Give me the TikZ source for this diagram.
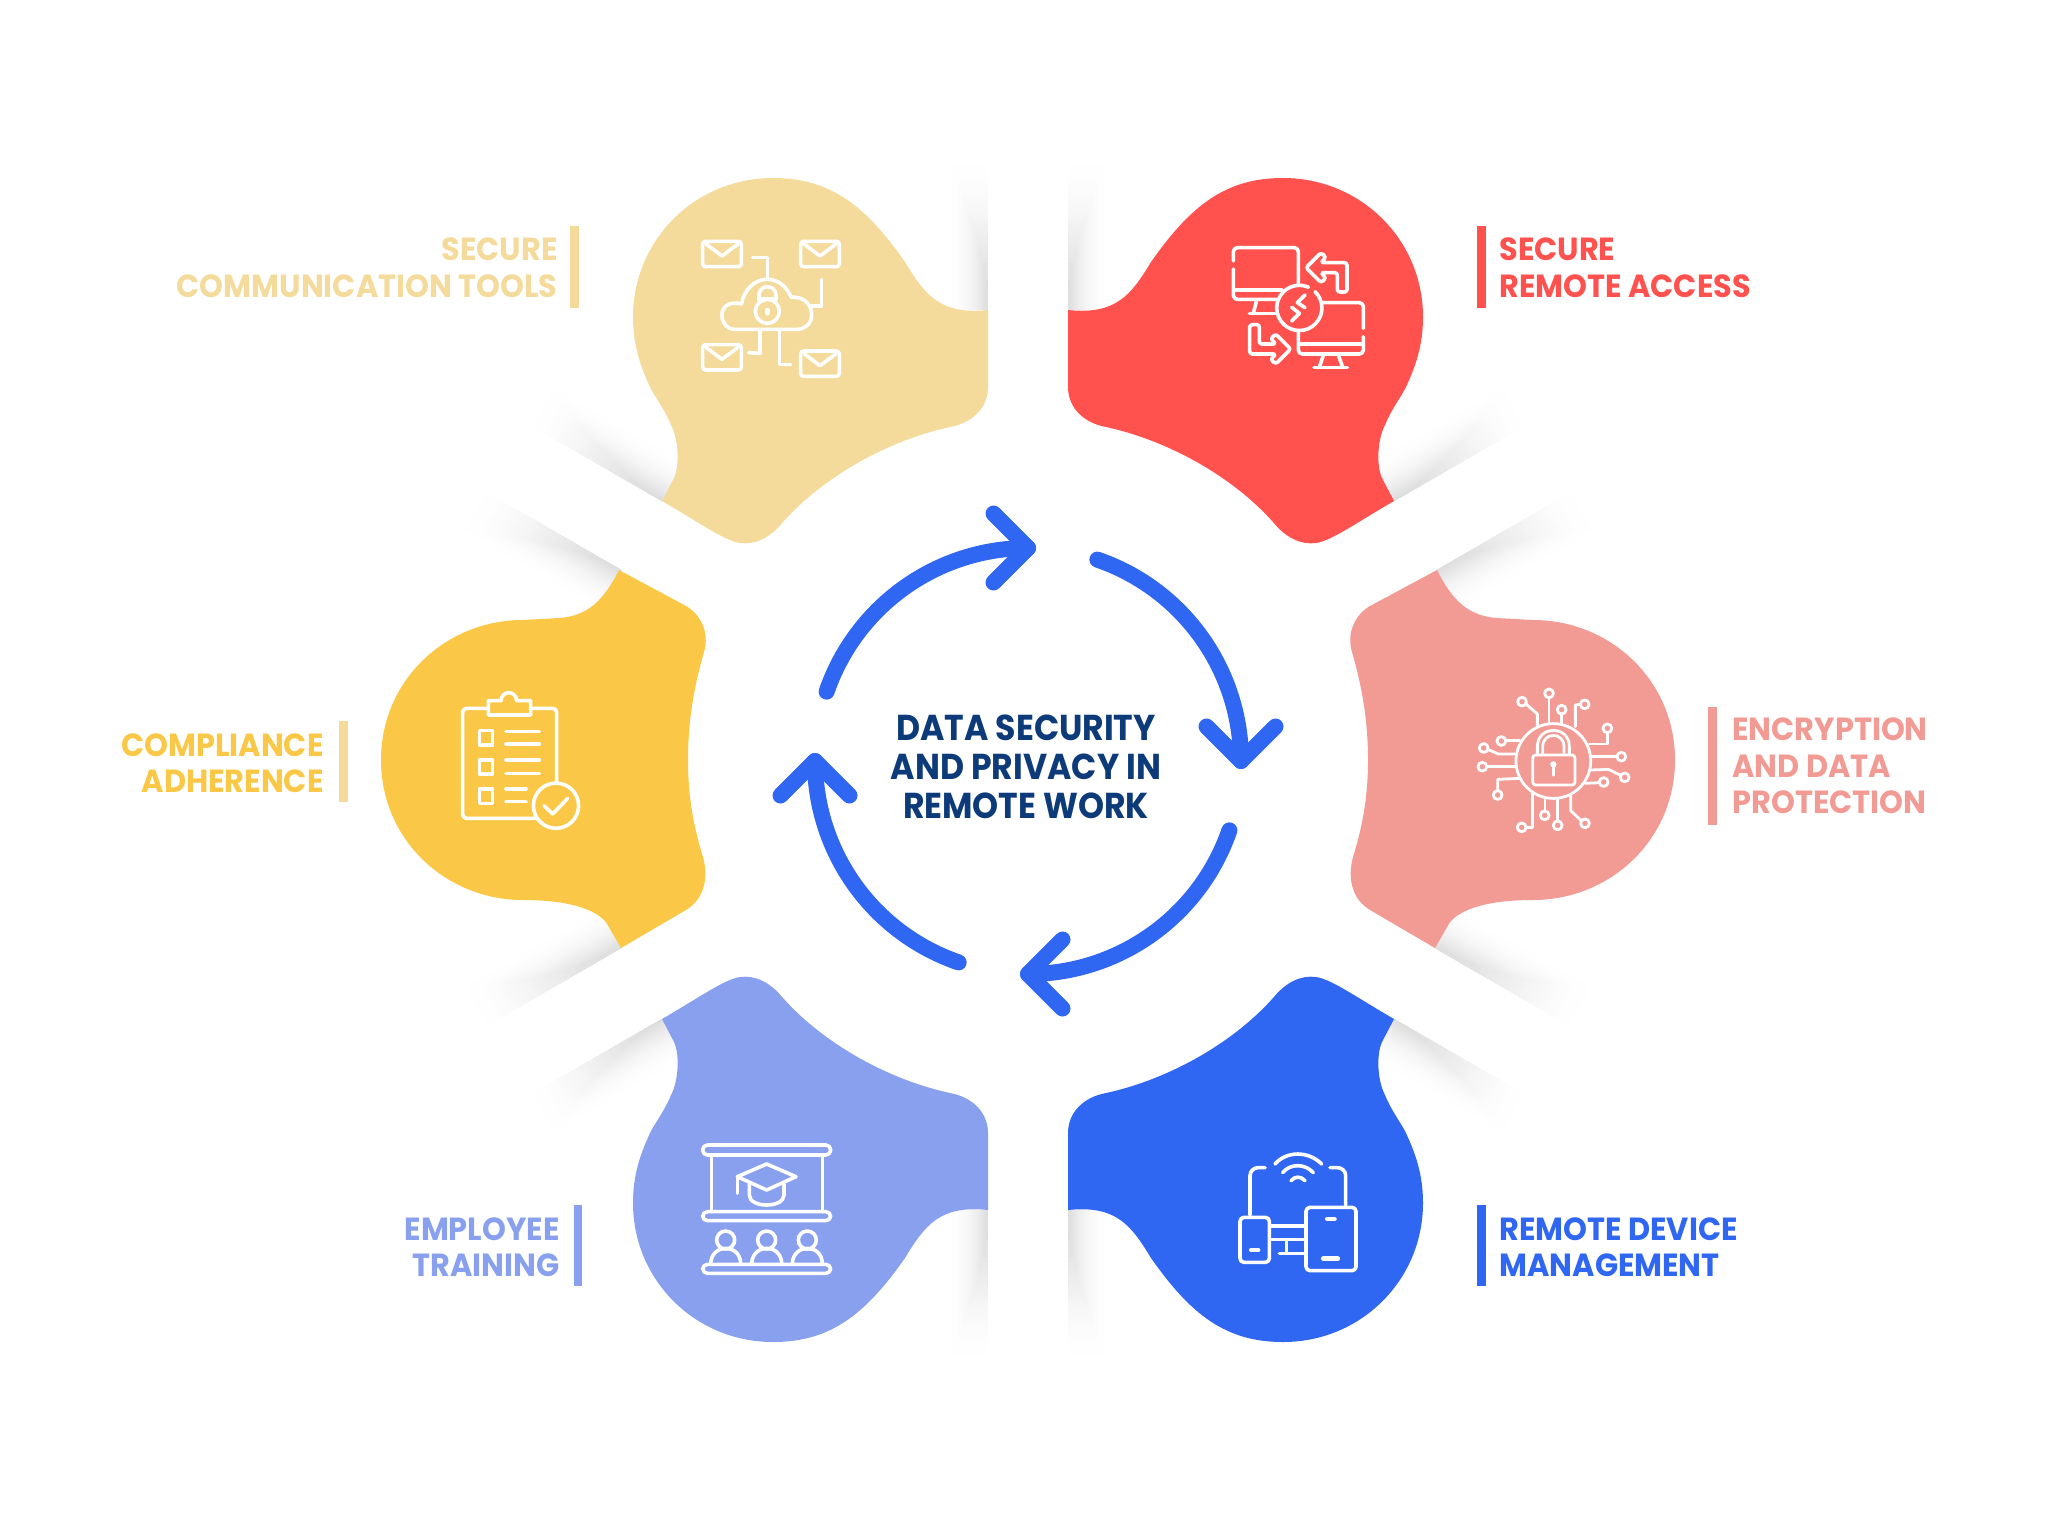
\documentclass[tikz,border=0pt]{standalone}
\usepackage{fontspec}
\newfontfamily\labfont[FakeStretch=0.95]{Poppins}
\newfontfamily\titfont[FakeStretch=0.92]{Poppins}
\definecolor{ctan}{HTML}{F4DB9B}
\definecolor{cred}{HTML}{FF524F}
\definecolor{cpink}{HTML}{F29A94}
\definecolor{cyel}{HTML}{FAC846}
\definecolor{cperi}{HTML}{88A0EE}
\definecolor{cblue}{HTML}{2F66F2}
\definecolor{cnavy}{HTML}{0D3B7A}
\newcommand{\softshadow}[6]{%
 \foreach \i in {28,...,1}{%
  \pgfmathsetmacro{\tt}{\i/28}\pgfmathsetmacro{\ll}{\tt^0.6}\pgfmathsetmacro{\pp}{14*(1-\tt)*(1-\tt)+0.1}%
  \fill[black!\pp!white] (#1,#2) -- ++({\ll*(#3)},{\ll*(#4)}) -- ++({\tt*(#5)},{\tt*(#6)}) -- ++({-\ll*(#3)},{-\ll*(#4)}) -- cycle;%
 }}
\newcommand{\tanblob}{(988,310) -- (988,387) .. controls (988,408) and (972,423) .. (950,427) .. controls (890,440) and (825,475) .. (783,522) .. controls (770,538) and (755,545) .. (740,543) .. controls (725,541) and (700,523) .. (662,501) -- (673,480) .. controls (680,468) and (679,440) .. (671,425) .. controls (665,410) and (655,397) .. (650,387) .. controls (640,365) and (633,345) .. (633,317) .. controls (633,240) and (695,178) .. (773,178) .. controls (830,178) and (865,205) .. (905,262) .. controls (925,295) and (940,315) .. (988,310) -- cycle}
\newcommand{\pinkblob}{(1437,570) .. controls (1452,600) and (1468,616) .. (1497,618) -- (1533,620) .. controls (1610,620) and (1675,680) .. (1675,760) .. controls (1675,840) and (1610,900) .. (1533,900) .. controls (1500,900) and (1465,905) .. (1450,922) -- (1435,948) -- (1370,910) .. controls (1350,898) and (1348,875) .. (1353,857) .. controls (1363,825) and (1368,795) .. (1368,760) .. controls (1368,715) and (1360,680) .. (1352,652) .. controls (1346,632) and (1356,614) .. (1370,606) -- cycle}
\tikzset{
 lab/.style={inner sep=0pt,font=\labfont\bfseries\fontsize{16}{18.3}\selectfont},
 tit/.style={inner sep=0pt,font=\titfont\bfseries\fontsize{18}{19.5}\selectfont},
 icon/.style={draw=white,line width=1.8pt,line cap=round,line join=round},
 icn/.style={shift={(#1)},x=0.16667pt,y=-0.16667pt},
 cyc/.style={draw=cblue,line width=8pt,line cap=round,line join=round},
}
\begin{document}
\begin{tikzpicture}[x=0.5pt,y=-0.5pt]
\useasboundingbox (0,0) rectangle (2048,1521);
% soft shadows
\softshadow{988}{310}{0}{-150}{-40}{0}
\softshadow{1068}{310}{0}{-150}{40}{0}
\softshadow{988}{1210}{0}{150}{-40}{0}
\softshadow{1068}{1210}{0}{150}{40}{0}
\softshadow{662}{501}{-135}{-78}{23}{-40}
\softshadow{1394}{501}{135}{-78}{-23}{-40}
\softshadow{662}{1019}{-135}{78}{23}{40}
\softshadow{1394}{1019}{135}{78}{-23}{40}
\softshadow{1437}{570}{140}{-81}{23}{40}
\softshadow{1435}{948}{140}{81}{23}{-40}
\softshadow{621}{570}{-140}{-81}{-23}{40}
\softshadow{621}{948}{-140}{81}{-23}{-40}
% blobs
\fill[ctan] \tanblob;
\begin{scope}[shift={(2056,0)},xscale=-1]\fill[cred] \tanblob;\end{scope}
\begin{scope}[shift={(0,1520)},yscale=-1]\fill[cperi] \tanblob;\end{scope}
\begin{scope}[shift={(2056,1520)},xscale=-1,yscale=-1]\fill[cblue] \tanblob;\end{scope}
\fill[cpink] \pinkblob;
\begin{scope}[shift={(2056,0)},xscale=-1]\fill[cyel] \pinkblob;\end{scope}
% label bars
\fill[ctan] (570,226) rectangle (579,308);
\fill[cred] (1477,226) rectangle (1486,308);
\fill[cpink] (1708,707) rectangle (1717,825);
\fill[ctan] (339,721) rectangle (348,802);
\fill[cperi] (574,1205) rectangle (582,1286);
\fill[cblue] (1477,1205) rectangle (1486,1286);
% labels
\node[lab,align=right,anchor=east,text=ctan] (l1) at (558,268) {SECURE\\COMMUNICATION TOOLS};
\node[lab,align=left,anchor=west,text=cred] (l2) at (1499,268) {SECURE\\REMOTE ACCESS};
\node[lab,align=left,anchor=west,text=cpink] (l3) at (1732,766) {ENCRYPTION\\AND DATA\\PROTECTION};
\node[lab,align=right,anchor=east,text=cyel] (l4) at (324,763) {COMPLIANCE\\ADHERENCE};
\node[lab,align=right,anchor=east,text=cperi] (l5) at (560,1247) {EMPLOYEE\\TRAINING};
\node[lab,align=left,anchor=west,text=cblue] (l6) at (1499,1247) {REMOTE DEVICE\\MANAGEMENT};
\node[tit,align=center,text=cnavy] (title) at (1026,767) {DATA SECURITY\\AND PRIVACY IN\\REMOTE WORK};
% cycle arrows
\coordinate (ctr) at (1028,761);
\foreach \s/\e in {161/90,71/0,-19/-90,-109/-180}{
 \draw[cyc] (ctr) ++(\s:106.5pt) arc[start angle=\s,end angle=\e,radius=106.5pt];
 \draw[cyc] (ctr) ++(\e:106.5pt) ++({\e+45}:24.4pt) -- ++({\e+225}:24.4pt) -- ++({\e+135}:24.4pt);
}
% icon 1
\begin{scope}[icn={600,150}]
\foreach \dx/\dy in {0/0,294/0,0/310,294/329}{
 \draw[icon,rounded corners=1.5pt,shift={(\dx,\dy)}] (308,274) rectangle (424,350);
 \draw[icon,shift={(\dx,\dy)}] (318,282) -- (366,318) -- (414,282);
}
\draw[icon] (458,322) -- (502,322) -- (502,385);
\draw[icon] (664,388) -- (664,468) -- (635,468);
\draw[icon] (480,540) -- (480,610) -- (446,608);
\draw[icon] (538,540) -- (538,644) -- (572,644);
\draw[icon] (405,538) .. controls (380,538) and (366,518) .. (366,495) .. controls (366,472) and (385,452) .. (425,462) .. controls (430,420) and (465,388) .. (500,388) .. controls (535,388) and (560,410) .. (574,442) .. controls (600,438) and (635,455) .. (635,495) .. controls (635,520) and (615,538) .. (590,538) -- cycle;
\draw[icon] (502,484) circle[radius=6pt];
\draw[icon] (477,450) -- (477,435) .. controls (477,420) and (490,410) .. (502,410) .. controls (515,410) and (528,420) .. (528,435) -- (528,450);
\draw[icon] (486,445) -- (518,445);
\draw[icon,line width=2.2pt] (502,480) -- (502,490);
\end{scope}
% icon 2
\begin{scope}[icn={1040,150}]
\draw[icon,rounded corners=2pt] (580,333) -- (580,293) -- (775,293) -- (775,400);
\draw[icon,rounded corners=2pt] (580,357) -- (580,448) -- (710,448);
\draw[icon] (585,420) -- (725,420);
\draw[icon] (650,450) -- (640,490);
\draw[icon] (628,490) -- (705,490);
\draw[icon] (825,425) arc[start angle=46,delta angle=-340,radius=11.3pt];
\draw[icon] (795,435) -- (772,458) -- (795,473);
\draw[icon] (755,472) -- (778,490) -- (755,513);
\draw[icon,rounded corners=2pt] (848,458) -- (970,458) -- (970,535);
\draw[icon,rounded corners=2pt] (970,560) -- (970,612) -- (775,612) -- (775,548);
\draw[icon] (780,582) -- (970,582);
\draw[icon] (850,615) -- (838,652);
\draw[icon] (895,615) -- (908,652);
\draw[icon] (822,652) -- (922,652);
\draw[icon,rounded corners=1.3pt] (798,353) -- (843,308) -- (858,322) -- (842,338) -- (921,338) -- (921,426) -- (892,426) -- (892,368) -- (842,368) -- (858,384) -- (843,398) -- cycle;
\draw[icon,rounded corners=1.3pt] (752,597) -- (707,642) -- (692,628) -- (708,612) -- (629,612) -- (629,524) -- (658,524) -- (658,582) -- (708,582) -- (692,566) -- (707,552) -- cycle;
\end{scope}
% icon 3
\begin{scope}[icn={1340,560}]
\tikzset{icon/.append style={line width=1.4pt}}
\draw[icon] (640,603) circle[radius=18.7pt];
\draw[icon,rounded corners=1.5pt] (578,585) rectangle (705,675);
\draw[icon] (592,585) -- (592,560) .. controls (592,495) and (688,495) .. (688,560) -- (688,585);
\draw[icon] (608,582) -- (608,560) .. controls (608,515) and (672,515) .. (672,560) -- (672,582);
\fill[white] (640,613) circle[radius=1.6pt];
\draw[icon,line width=1.6pt] (640,615) -- (640,645);
\foreach \c/\p in {{546,425}/{(592,495) -- (592,462) -- (558,432)},{627,400}/{(627,487) -- (627,413)},{665,449}/{(665,487) -- (665,463)},{734,433}/{(706,500) -- (706,435) -- (720,433)},{802,505}/{(748,552) -- (802,552) -- (802,520)},{844,590}/{(758,590) -- (830,590)},{854,652}/{(752,630) -- (805,628) -- (842,646)},{791,666}/{(735,670) -- (778,668)},{735,790}/{(692,706) -- (692,752) -- (723,781)},{653,796}/{(652,718) -- (652,783)},{614,766}/{(615,718) -- (615,752)},{545,802}/{(578,700) -- (578,803) -- (560,803)},{473,705}/{(540,655) -- (473,658) -- (473,691)},{427,620}/{(525,620) -- (440,620)},{431,564}/{(525,582) -- (475,582) -- (443,568)},{484,543}/{(540,542) -- (498,542)}}{
 \draw[icon] \p;
 \draw[icon] (\c) circle[radius=2.2pt];
}
\end{scope}
% icon 4
\begin{scope}[icn={1180,1100}]
\draw[icon,rounded corners=2pt] (180,352) rectangle (268,487);
\draw[icon,rounded corners=2pt] (378,322) rectangle (528,512);
\draw[icon,line width=2.4pt] (214,450) -- (234,450);
\draw[icon,line width=2.4pt] (442,357) -- (463,357);
\draw[icon,line width=2.4pt] (430,476) -- (473,476);
\draw[icon,rounded corners=4pt] (210,345) -- (210,203) -- (255,203);
\draw[icon,rounded corners=4pt] (450,203) -- (497,203) -- (497,315);
\draw[icon] (285,192) .. controls (320,152) and (385,152) .. (425,192);
\draw[icon] (308,218) .. controls (330,190) and (375,190) .. (400,218);
\draw[icon] (333,242) .. controls (345,228) and (362,228) .. (375,242);
\draw[icon] (275,378) -- (370,378);
\draw[icon] (275,418) -- (370,418);
\draw[icon] (298,460) -- (370,460);
\draw[icon] (320,420) -- (320,458);
\end{scope}
% icon 5
\begin{scope}[icn={660,1110}]
\draw[icon,rounded corners=2.4pt] (128,105) rectangle (512,135);
\draw[icon,rounded corners=2.4pt] (128,305) rectangle (512,332);
\draw[icon] (155,135) -- (155,305);
\draw[icon] (487,135) -- (487,305);
\draw[icon] (232,200) -- (320,162) -- (408,200) -- (320,240) -- cycle;
\draw[icon] (232,200) -- (232,250);
\draw[icon] (268,222) -- (268,255) .. controls (268,295) and (372,295) .. (372,255) -- (372,222);
\foreach \h in {197,320,442}{
 \draw[icon] (\h,390) circle[radius=4.5pt];
 \draw[icon] ({\h-45},460) .. controls ({\h-42},400) and ({\h+43},400) .. ({\h+45},460);
}
\draw[icon,rounded corners=2.4pt] (128,463) rectangle (512,490);
\end{scope}
% icon 6
\begin{scope}[icn={420,660}]
\draw[icon,rounded corners=2pt] (205,145) -- (128,145) -- (128,475) -- (350,475);
\draw[icon,rounded corners=2pt] (335,145) -- (410,145) -- (410,370);
\draw[icon] (205,165) -- (205,122) -- (243,122) .. controls (245,90) and (288,90) .. (290,122) -- (332,122) -- (332,165) -- cycle;
\draw[icon] (178,212) rectangle (218,255);
\draw[icon] (178,300) rectangle (218,342);
\draw[icon] (178,387) rectangle (218,430);
\draw[icon] (258,214) -- (358,214);
\draw[icon] (258,252) -- (358,252);
\draw[icon] (258,300) -- (358,300);
\draw[icon] (258,340) -- (358,340);
\draw[icon] (258,387) -- (318,387);
\draw[icon] (258,425) -- (318,425);
\draw[icon] (408,437) circle[radius=11.3pt];
\draw[icon] (372,437) -- (398,462) -- (443,415);
\end{scope}
\end{tikzpicture}
\end{document}
